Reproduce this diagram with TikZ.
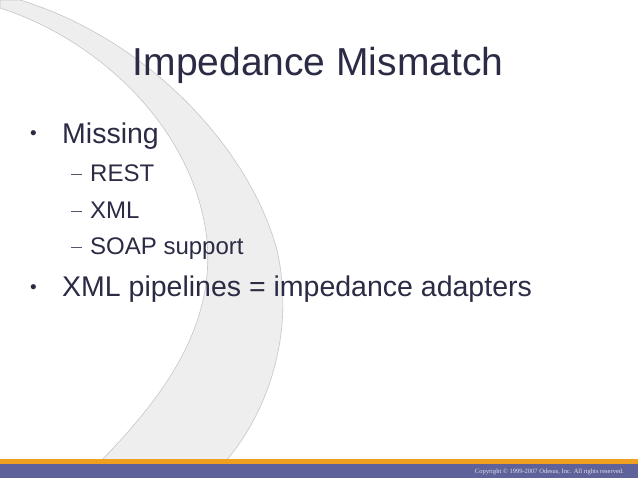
\documentclass[tikz,border=0pt]{standalone}
\usepackage{fontspec}
\setmainfont{Liberation Sans}
\newfontfamily\serifcopy{Liberation Serif}
\begin{document}
\begin{tikzpicture}[x=1pt,y=-1pt,
  txt/.style={anchor=base west,inner sep=0pt,text=ink},
  dsh/.style={draw=ink!80,line width=0.8pt},
  ]
\definecolor{ink}{HTML}{2B2B45}
\definecolor{band}{HTML}{EEEEEE}
\definecolor{bar}{HTML}{5F629A}
\definecolor{org}{HTML}{F0A020}
\useasboundingbox (0,0) rectangle (638,478);
\fill[white] (0,0) rectangle (638,478);
\fill[band,draw=gray!45,line width=0.6pt] (20,0) .. controls (150,40) and (250,150) .. (277,250)
  .. controls (295,330) and (270,410) .. (225,462) -- (100,462)
  .. controls (160,400) and (215,330) .. (207,240)
  .. controls (195,130) and (100,40) .. (0,8) -- (0,0) -- cycle;
\fill[org] (0,459) rectangle (638,464);
\fill[bar] (0,464) rectangle (638,478);
\node[anchor=base,inner sep=0pt,text=ink,font=\fontsize{39}{42}\selectfont] (title) at (318,76) {Impedance Mismatch};
\node[txt,font=\fontsize{19}{15}\selectfont] (b1) at (30,140) {\textbullet};
\node[txt,font=\fontsize{28.5}{30}\selectfont] (l1) at (62,144) {Missing};
\coordinate (d1a) at (71,174); \coordinate (d1b) at (82,174);
\draw[dsh] (d1a) -- (d1b);
\node[txt,font=\fontsize{24}{26}\selectfont] (l2) at (90,182) {REST};
\coordinate (d2a) at (71,211); \coordinate (d2b) at (82,211);
\draw[dsh] (d2a) -- (d2b);
\node[txt,font=\fontsize{24}{26}\selectfont] (l3) at (90,219) {XML};
\coordinate (d3a) at (71,247); \coordinate (d3b) at (82,247);
\draw[dsh] (d3a) -- (d3b);
\node[txt,font=\fontsize{24}{26}\selectfont] (l4) at (90,255) {SOAP support};
\node[txt,font=\fontsize{19}{15}\selectfont] (b2) at (30,294) {\textbullet};
\node[txt,font=\fontsize{28.5}{30}\selectfont] (l5) at (62,297) {XML pipelines = impedance adapters};
\node[anchor=base east,inner sep=0pt,text=white!80!bar,font=\fontsize{6.5}{7}\serifcopy] (copy) at (624,474) {Copyright © 1999-2007 Odesus, Inc. All rights reserved.};
\end{tikzpicture}
\end{document}
